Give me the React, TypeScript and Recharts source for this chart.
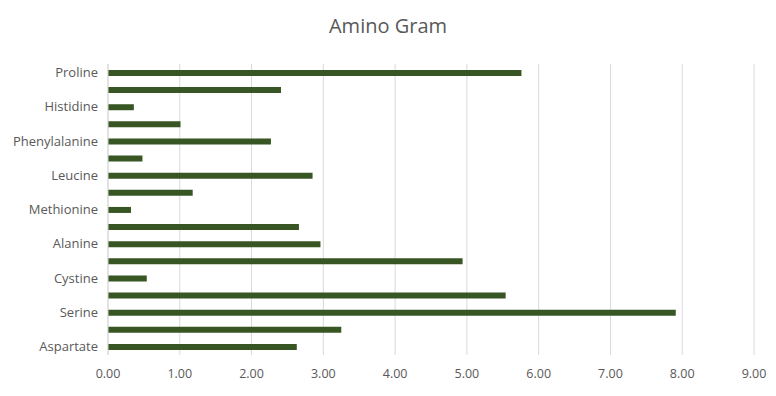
import { BarChart, Bar, XAxis, YAxis, CartesianGrid } from 'recharts';

// categories bottom -> top, as in the spreadsheet
const AMINO_ACIDS = [
  'Aspartate', 'Threonine', 'Serine', 'Glutamate', 'Cystine', 'Glycine',
  'Alanine', 'Valine', 'Methionine', 'Isoleucine', 'Leucine', 'Tyrosine',
  'Phenylalanine', 'Lysine', 'Histidine', 'Arginine', 'Proline',
];
const GRAMS = [
  2.63, 3.25, 7.91, 5.54, 0.54, 4.94,
  2.96, 2.66, 0.32, 1.18, 2.85, 0.48,
  2.27, 1.01, 0.36, 2.41, 5.76,
];
const X_TICKS = [0, 1, 2, 3, 4, 5, 6, 7, 8, 9];

const FONT = '"Open Sans", "Liberation Sans", sans-serif';
const TEXT_COLOR = '#595959';
const GRID_COLOR = '#d9d9d9';
const BAR_COLOR = '#375623';

const data = AMINO_ACIDS.map((name, i) => ({ name, grams: GRAMS[i] }));

export default function App() {
  return (
    <div style={{ position: 'absolute', left: 0, top: 0, width: 776, height: 396, background: '#fff', fontFamily: FONT }}>
      <div
        style={{
          position: 'absolute',
          top: 12,
          left: 0,
          width: 776,
          textAlign: 'center',
          fontSize: 20,
          color: TEXT_COLOR,
          lineHeight: '28px',
        }}
      >
        Amino Gram
      </div>
      <BarChart
        width={776}
        height={396}
        data={data}
        layout="vertical"
        margin={{ top: 64, right: 22, left: 0, bottom: 11 }}
        barCategoryGap={0}
      >
        <CartesianGrid horizontal={false} stroke={GRID_COLOR} />
        <XAxis
          type="number"
          domain={[0, 9]}
          ticks={X_TICKS}
          tickFormatter={(v: number) => v.toFixed(2)}
          axisLine={false}
          tickLine={false}
          tickMargin={8}
          height={30}
          tick={{ fill: TEXT_COLOR, fontSize: 12.5, fontFamily: FONT }}
        />
        <YAxis
          type="category"
          dataKey="name"
          reversed
          interval={1}
          width={108}
          axisLine={{ stroke: GRID_COLOR }}
          tickLine={false}
          tickMargin={4}
          tick={{ fill: TEXT_COLOR, fontSize: 13, fontFamily: FONT }}
        />
        <Bar dataKey="grams" fill={BAR_COLOR} barSize={6} isAnimationActive={false} />
      </BarChart>
    </div>
  );
}
